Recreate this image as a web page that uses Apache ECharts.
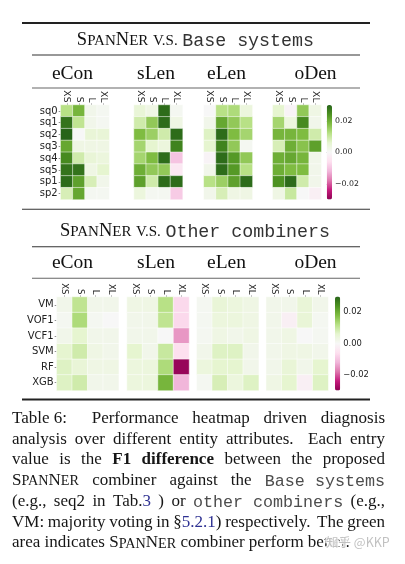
<!DOCTYPE html>
<html><head><meta charset="utf-8">
<script src="https://cdn.jsdelivr.net/npm/echarts@6/dist/echarts.min.js"></script>
<style>html,body{margin:0;padding:0;background:#fff}#c{width:405px;height:564px}</style>
</head><body><div id="c"></div>
<script>
// ---------------- data ----------------
const sizes = ['XS', 'S', 'L', 'XL'];
const attributes = ['eCon', 'sLen', 'eLen', 'oDen'];
const baseRows = ['sq0', 'sq1', 'sq2', 'sq3', 'sq4', 'sq5', 'sp1', 'sp2'];
const combinerRows = ['VM', 'VOF1', 'VCF1', 'SVM', 'RF', 'XGB'];
const colorTicks = [-0.02, 0, 0.02];

// SpanNER vs Base systems (rows = baseRows, cols = XS,S,L,XL)
const baseECon = [
  [0.012, 0.019, 0.002, 0.001],
  [0.028, 0.011, 0.002, 0.001],
  [0.030, 0.000, 0.005, 0.005],
  [0.021, 0.003, 0.003, 0.003],
  [0.025, 0.009, 0.005, 0.004],
  [0.028, 0.028, 0.003, 0.006],
  [0.029, 0.022, 0.008, 0.002],
  [0.008, 0.021, 0.001, 0.001]
];
const baseSLen = [
  [0.005, 0.003, 0.029, 0.001],
  [0.009, 0.016, 0.029, 0.003],
  [0.018, 0.015, 0.009, 0.029],
  [0.014, 0.006, 0.004, 0.026],
  [0.014, 0.018, 0.029, -0.010],
  [0.020, 0.016, 0.016, -0.004],
  [0.022, 0.009, 0.029, 0.029],
  [0.004, 0.001, 0.001, -0.009]
];
const baseELen = [
  [0.000, 0.012, 0.013, 0.004],
  [0.002, 0.021, 0.016, 0.012],
  [0.007, 0.029, 0.018, 0.014],
  [0.006, 0.026, 0.016, 0.001],
  [-0.001, 0.029, 0.023, 0.016],
  [0.002, 0.029, 0.023, 0.012],
  [0.012, 0.015, 0.022, 0.029],
  [0.002, 0.008, 0.003, 0.003]
];
const baseODen = [
  [0.006, -0.001, 0.016, 0.003],
  [0.014, 0.004, 0.025, 0.002],
  [0.019, 0.019, 0.018, 0.009],
  [0.008, 0.020, 0.017, 0.022],
  [0.020, 0.021, 0.019, 0.002],
  [0.020, 0.018, 0.018, 0.002],
  [0.024, 0.029, 0.009, 0.002],
  [0.003, 0.010, 0.000, -0.002]
];

// SpanNER vs Other combiners (rows = combinerRows)
const combECon = [
  [0.002, 0.011, 0.002, 0.002],
  [0.001, 0.013, 0.001, 0.000],
  [0.002, 0.006, 0.002, 0.002],
  [0.006, 0.009, 0.003, 0.002],
  [0.007, 0.005, 0.003, 0.003],
  [0.007, 0.009, 0.002, 0.002]
];
const combSLen = [
  [0.003, 0.003, 0.012, -0.007],
  [0.002, 0.002, 0.011, -0.007],
  [0.002, 0.002, 0.000, -0.015],
  [0.006, 0.002, 0.010, -0.006],
  [0.004, 0.004, 0.013, -0.029],
  [0.004, 0.004, 0.019, -0.012]
];
const combELen = [
  [0.001, 0.005, 0.004, 0.003],
  [0.001, 0.004, 0.004, 0.003],
  [0.001, 0.003, 0.002, 0.003],
  [0.002, 0.007, 0.007, 0.002],
  [0.004, 0.006, 0.006, 0.002],
  [0.001, 0.008, 0.004, 0.007]
];
const combODen = [
  [0.002, 0.002, 0.005, 0.002],
  [0.002, -0.002, 0.005, 0.001],
  [0.002, 0.003, 0.000, 0.001],
  [0.002, 0.003, 0.003, 0.002],
  [0.002, 0.005, 0.002, 0.006],
  [0.003, 0.006, -0.002, 0.007]
];

// text content
const titleTop = 'c:SpanNer c:v.s. m:Base_systems';
const titleBottom = 'c:SpanNer c:v.s. m:Other_combiners';
const captionLines = [
  'Table_6:~ Performance heatmap driven diagnosis',
  'analysis over different entity attributes.~ Each entry',
  'value is the b:F1 b:difference between the proposed',
  'c:SpanNer combiner against the m:Base_systems',
  '(e.g., seq2 in Tab.|l:3 ) or m:other_combiners (e.g.,',
  'VM: majority voting in §|l:5.2.1|) respectively.~ The green',
  'area indicates c:SpanNer combiner perform better.'
];
const watermark = '知乎 @KKP';

// ---------------- layout (positions / styles) ----------------
const PIYG = ['#8e0152','#c51b7d','#de77ae','#f1b6da','#fde0ef','#f7f7f7','#e6f5d0','#b8e186','#7fbc41','#4d9221','#276419'];
const panels = [
  { groups: [baseECon, baseSLen, baseELen, baseODen], rows: baseRows,
    lefts: [60.7, 134, 203.8, 272.7], width: 48.6, top: 105, height: 94.5,
    xFont: 9.2, yFont: 10, cb: { left: 326.8, top: 105, w: 5.2, h: 94.5, font: 7.8 } },
  { groups: [combECon, combSLen, combELen, combODen], rows: combinerRows,
    lefts: [56.7, 127, 196.7, 266.2], width: 62, top: 297, height: 93.5,
    xFont: 8.5, yFont: 10, cb: { left: 335, top: 296.5, w: 5.2, h: 94, font: 8.4 } }
];

const grids = [], xAxes = [], yAxes = [], series = [], visualMaps = [];
panels.forEach((p, pi) => {
  const seriesIdx = [];
  p.groups.forEach((g, gi) => {
    const idx = grids.length;
    grids.push({ left: p.lefts[gi], top: p.top, width: p.width, height: p.height, outerBoundsMode: 'none' });
    xAxes.push({
      type: 'category', gridIndex: idx, data: sizes, position: 'top',
      axisLine: { show: false },
      axisTick: { show: true, length: 1.5, alignWithLabel: true, lineStyle: { color: '#444', width: 0.6 } },
      axisLabel: { rotate: 90, interval: 0, margin: 2.5, fontSize: p.xFont, fontFamily: 'DejaVu Sans', color: '#222' },
      splitLine: { show: false }
    });
    yAxes.push({
      type: 'category', gridIndex: idx, data: p.rows, inverse: true,
      axisLine: { show: false },
      axisTick: { show: gi === 0, length: 2, alignWithLabel: true, lineStyle: { color: '#444', width: 0.6 } },
      axisLabel: { show: gi === 0, interval: 0, margin: 3, fontSize: p.yFont, fontFamily: 'DejaVu Sans', color: '#222' },
      splitLine: { show: false }
    });
    const data = [];
    g.forEach((row, ri) => row.forEach((v, ci) => data.push([ci, ri, v])));
    seriesIdx.push(series.length);
    series.push({
      type: 'heatmap', xAxisIndex: idx, yAxisIndex: idx, data: data,
      itemStyle: { borderColor: '#ffffff', borderWidth: 0.5 },
      emphasis: { disabled: true }, silent: true, progressive: 0
    });
  });
  // colorbar
  visualMaps.push({
    type: 'continuous', seriesIndex: seriesIdx, min: -0.03, max: 0.03,
    orient: 'vertical', left: p.cb.left, top: p.cb.top, itemWidth: p.cb.w, itemHeight: p.cb.h,
    padding: 0, calculable: false, hoverLink: false, realtime: false,
    inRange: { color: PIYG }
  });
  const cidx = grids.length;
  grids.push({ left: p.cb.left, top: p.cb.top, width: p.cb.w, height: p.cb.h, outerBoundsMode: 'none' });
  xAxes.push({ type: 'value', gridIndex: cidx, show: false, min: 0, max: 1 });
  yAxes.push({
    type: 'value', gridIndex: cidx, position: 'right', min: -0.03, max: 0.03,
    axisLine: { show: false }, splitLine: { show: false },
    axisTick: { show: true, length: 2, customValues: colorTicks, lineStyle: { color: '#444', width: 0.6 } },
    axisLabel: { customValues: colorTicks, margin: 3, fontSize: p.cb.font, fontFamily: 'DejaVu Sans', color: '#222',
      formatter: v => (v < 0 ? '\u2212' : '') + Math.abs(v).toFixed(2) }
  });
});

// ---------------- text helpers ----------------
const ctx = document.createElement('canvas').getContext('2d');
const SERIF = '"Liberation Serif"', MONO = '"Liberation Mono"';
function measure(t, st) { ctx.font = st.weight + ' ' + st.size + 'px ' + st.fam; return ctx.measureText(t).width; }
function styleOf(kind, S) {
  const base = { fam: SERIF, size: S.serif, weight: 'normal', color: S.color, mid: 0.34 };
  if (kind === 'b') return Object.assign(base, { weight: 'bold' });
  if (kind === 'm') return { fam: MONO, size: S.mono, weight: 'normal', color: S.monoColor, mid: 0.28 };
  if (kind === 'l') return Object.assign(base, { color: S.link });
  if (kind === 'cs') return Object.assign(base, { size: S.small });
  return base;
}
function parseWord(word) {
  const runs = [];
  word.split('|').forEach(part => {
    const m = part.match(/^([bmcl]):(.*)$/);
    const kind = m ? m[1] : 'n';
    const txt = (m ? m[2] : part).replace(/_/g, ' ');
    if (kind === 'c') {
      let cur = null;
      for (const ch of txt) {
        const big = ch !== ch.toLowerCase();
        const k = big ? 'cb' : 'cs';
        const c = ch.toUpperCase();
        if (cur && cur.kind === k) cur.text += c; else { cur = { kind: k, text: c }; runs.push(cur); }
      }
    } else runs.push({ kind: kind, text: txt });
  });
  return runs;
}
function textEl(t, x, baseline, st) {
  return { type: 'text', silent: true, x: x, y: baseline - st.mid * st.size,
    style: { text: t, fontSize: st.size, fontFamily: st.fam, fontWeight: st.weight, fill: st.color, align: 'left', verticalAlign: 'middle' } };
}
function buildLine(str, S, opt) {
  const words = str.split(' ').map(w => {
    let weight = 1;
    while (w.endsWith('~')) { w = w.slice(0, -1); weight += 0.8; }
    const runs = parseWord(w).map(r => Object.assign(r, { st: styleOf(r.kind, S) }));
    runs.forEach(r => { r.w = measure(r.text, r.st); });
    return { runs: runs, weight: weight, w: runs.reduce((a, r) => a + r.w, 0) };
  });
  const total = words.reduce((a, w) => a + w.w, 0);
  const gaps = words.slice(0, -1).reduce((a, w) => a + w.weight, 0);
  const spaceW = measure(' ', styleOf('n', S));
  const unit = opt.justify && gaps > 0 ? (opt.width - total) / gaps : spaceW;
  let x = opt.center !== undefined ? opt.center - (total + gaps * unit) / 2 : opt.x;
  const els = [];
  words.forEach(w => {
    w.runs.forEach(r => { els.push(textEl(r.text, x, opt.baseline, r.st)); x += r.w; });
    x += w.weight * unit;
  });
  return els;
}

// ---------------- graphic ----------------
const graphics = [];
function rule(x1, x2, y, lw, color) {
  graphics.push({ type: 'line', silent: true, shape: { x1: x1, y1: y, x2: x2, y2: y }, style: { stroke: color, lineWidth: lw } });
}
rule(22, 370, 23, 2, '#222');
rule(32, 360, 55, 1.1, '#333');
rule(32, 360, 88, 1.1, '#666');
rule(22, 370, 209.3, 1.1, '#333');
rule(32, 360, 246.8, 1.1, '#333');
rule(32, 360, 278.3, 1.1, '#666');
rule(22, 370, 399.5, 2, '#222');

const titleStyle = { serif: 18.5, small: 15, mono: 18.3, color: '#111', monoColor: '#333', link: '#2e3192' };
buildLine(titleTop, titleStyle, { center: 195.4, baseline: 46.5 }).forEach(e => graphics.push(e));
buildLine(titleBottom, titleStyle, { center: 195, baseline: 237 }).forEach(e => graphics.push(e));

const headerCenters = [72.5, 156, 226.5, 315.5];
[80.3, 269.3].forEach(bl => {
  attributes.forEach((a, i) => {
    graphics.push({ type: 'text', silent: true, x: headerCenters[i], y: bl - 0.34 * 19.5,
      style: { text: a, fontSize: 19.5, fontFamily: SERIF, fill: '#111', align: 'center', verticalAlign: 'middle' } });
  });
});

const capStyle = { serif: 17, small: 14.2, mono: 16.7, color: '#161616', monoColor: '#4d4d4d', link: '#2e3192' };
captionLines.forEach((ln, k) => {
  const last = k === captionLines.length - 1;
  buildLine(ln, capStyle, { x: 12, width: 373, baseline: 424.3 + 20.75 * k, justify: !last }).forEach(e => graphics.push(e));
});

graphics.push({ type: 'text', silent: true, x: 326, y: 542.5,
  style: { text: watermark, fontSize: 12.5, fontFamily: '"Noto Sans CJK SC"', fill: 'rgba(190,190,190,0.95)',
    stroke: 'rgba(255,255,255,0.85)', lineWidth: 2.5, strokeFirst: true, align: 'left', verticalAlign: 'middle' } });

const chart = echarts.init(document.getElementById('c'), null, { renderer: 'canvas', width: 405, height: 564 });
chart.setOption({
  animation: false,
  backgroundColor: '#ffffff',
  grid: grids, xAxis: xAxes, yAxis: yAxes,
  visualMap: visualMaps,
  series: series,
  graphic: { elements: graphics }
});
</script>
</body></html>
